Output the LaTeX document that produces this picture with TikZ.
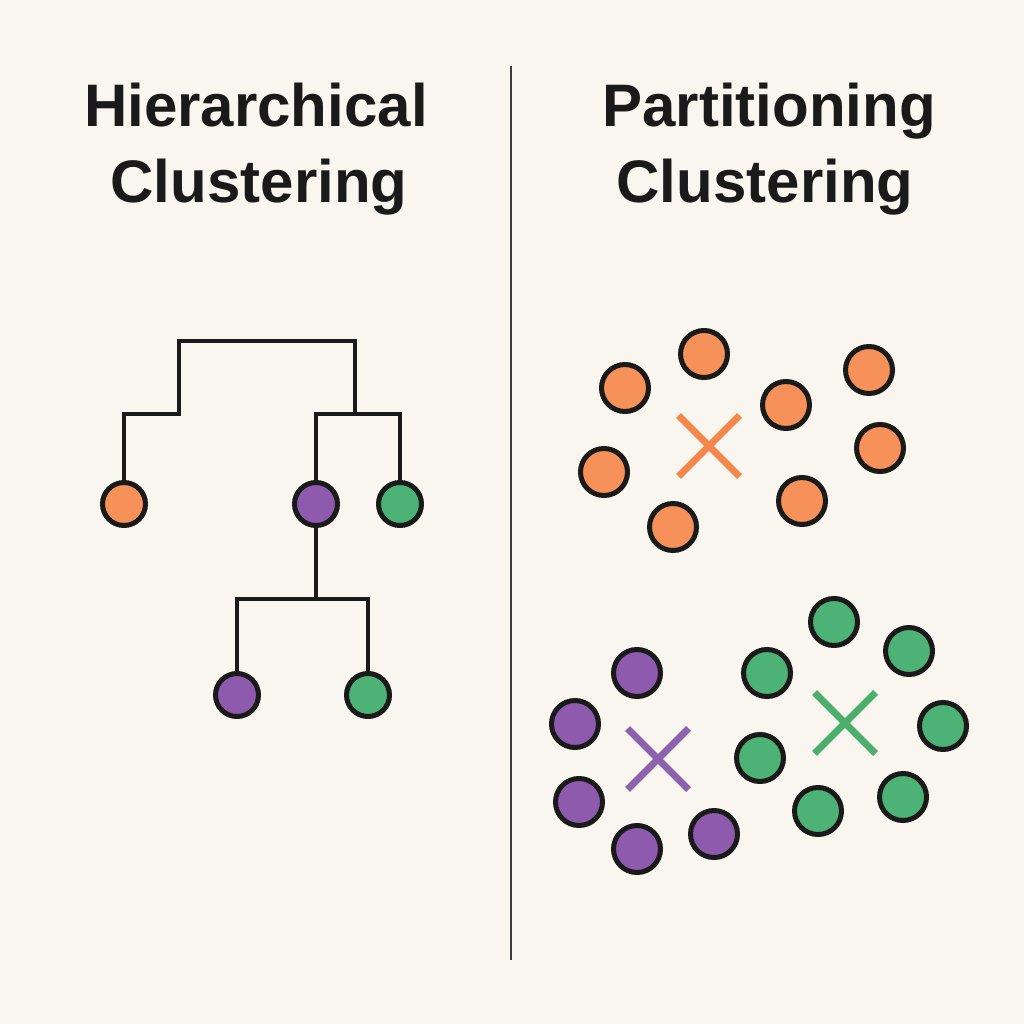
\documentclass[tikz,border=0pt]{standalone}
\usepackage{fontspec}
\setmainfont{Liberation Sans}
\usetikzlibrary{shapes.misc}
\definecolor{bg}{HTML}{F9F5EF}
\definecolor{ink}{HTML}{1A1A1A}
\definecolor{orng}{HTML}{F7915A}
\definecolor{purp}{HTML}{8E5AAE}
\definecolor{grn}{HTML}{4DB275}
\definecolor{xorng}{HTML}{F4874B}
\definecolor{xpurp}{HTML}{8C62AE}
\definecolor{xgrn}{HTML}{4CAF6E}
\tikzset{
  title/.style={font=\fontsize{60}{72}\selectfont\bfseries, text=ink, anchor=base, inner sep=0},
  leaf/.style={circle, draw=ink, line width=5pt, minimum size=43pt, inner sep=0},
  dot/.style={circle, draw=ink, line width=5pt, minimum size=47pt, inner sep=0},
  link/.style={draw=ink, line width=4.5pt},
  xmark/.style={cross out, draw, line width=7pt, minimum size=54pt, inner sep=0},
  divider/.style={draw=ink!85, line width=2pt}
}
\begin{document}
\begin{tikzpicture}[x=1pt,y=-1pt]
\fill[bg] (0,0) rectangle (1024,1024);
\useasboundingbox (0,0) rectangle (1024,1024);

% titles
\node[title] (h1) at (256,127) {Hierarchical};
\node[title] (h2) at (259,203) {Clustering};
\node[title] (p1) at (769,127) {Partitioning};
\node[title] (p2) at (765,203) {Clustering};

% divider
\coordinate (dtop) at (511,66);
\coordinate (dbot) at (511,960);
\draw[divider] (dtop) -- (dbot);

% dendrogram
\node[leaf, fill=orng] (la) at (124,504) {};
\node[leaf, fill=purp] (lb) at (316,504) {};
\node[leaf, fill=grn]  (lc) at (400,504) {};
\node[leaf, fill=purp] (ld) at (237,695) {};
\node[leaf, fill=grn]  (le) at (368,695) {};
\coordinate (jl) at (179,414);
\coordinate (tl) at (179,341);
\coordinate (tr) at (355,341);
\coordinate (jr) at (355,414);
\coordinate (jb) at (316,599);
\draw[link] (la.north) |- (jl) -- (tl) -- (tr) -- (jr);
\draw[link] (lb.north) |- (jr) -| (lc.north);
\draw[link] (lb.south) -- (jb);
\draw[link] (ld.north) |- (jb) -| (le.north);

% orange cluster
\foreach \n/\x/\y in {o1/704/354, o2/625/388, o3/786/405, o4/869/370, o5/880/448, o6/604/472, o7/673/527, o8/802/501}
  \node[dot, fill=orng] (\n) at (\x,\y) {};
\node[xmark, draw=xorng] (xo) at (709,446) {};

% purple cluster
\foreach \n/\x/\y in {p1c/637/673, p2c/575/724, p3c/579/802, p4c/637/849, p5c/714/834}
  \node[dot, fill=purp] (\n) at (\x,\y) {};
\node[xmark, draw=xpurp] (xp) at (658,759) {};

% green cluster
\foreach \n/\x/\y in {g1/834/622, g2/909/651, g3/767/673, g4/943/726, g5/760/758, g6/818/811, g7/903/797}
  \node[dot, fill=grn] (\n) at (\x,\y) {};
\node[xmark, draw=xgrn] (xg) at (845,723) {};
\end{tikzpicture}
\end{document}
